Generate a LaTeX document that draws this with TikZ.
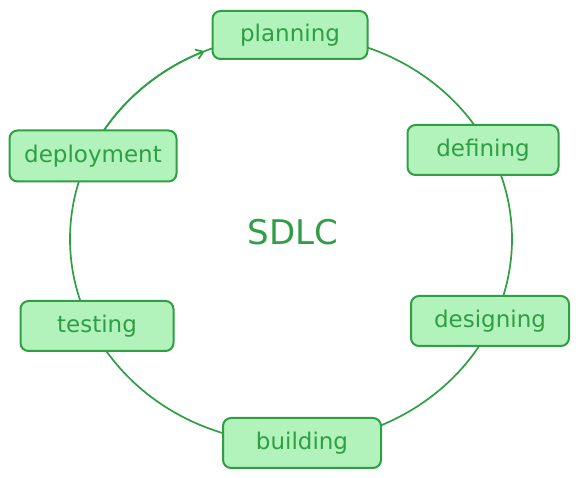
\documentclass[tikz,border=0pt]{standalone}
\usepackage{fontspec}
\setmainfont{DejaVu Sans}
\usetikzlibrary{arrows.meta}
\definecolor{strokegreen}{HTML}{2F9E44}
\definecolor{fillgreen}{HTML}{B2F2BB}
\begin{document}
\begin{tikzpicture}[x=1pt,y=1pt,
  phasebox/.style={draw=strokegreen, fill=fillgreen, line width=2pt, rounded corners=8pt,
    inner sep=0pt, text=strokegreen, font=\fontsize{23}{27}\selectfont, minimum height=50pt},
  ring/.style={draw=strokegreen, line width=1.7pt}]
\useasboundingbox (0,0) rectangle (579,478);
% ring
\draw[ring] (291,239) ellipse [x radius=221, y radius=204];
\draw[ring, -{Straight Barb[length=7pt,width=10pt,line width=1.7pt]}]
  (291,239) ++(148:221 and 204) arc[start angle=148, end angle=113, x radius=221, y radius=204];
% phases
\node[phasebox, minimum width=155pt, minimum height=48pt] (planning) at (290,443) {planning};
\node[phasebox, minimum width=151pt] (defining) at (483,328) {defining};
\node[phasebox, minimum width=158pt] (designing) at (490,157) {designing};
\node[phasebox, minimum width=158pt] (building) at (302,35) {building};
\node[phasebox, minimum width=153pt] (testing) at (97,152) {testing};
\node[phasebox, minimum width=167pt, minimum height=51pt] (deployment) at (93,322) {deployment};
\node[text=strokegreen, font=\fontsize{34}{40}\selectfont] (sdlc) at (293,246) {SDLC};
\end{tikzpicture}
\end{document}
